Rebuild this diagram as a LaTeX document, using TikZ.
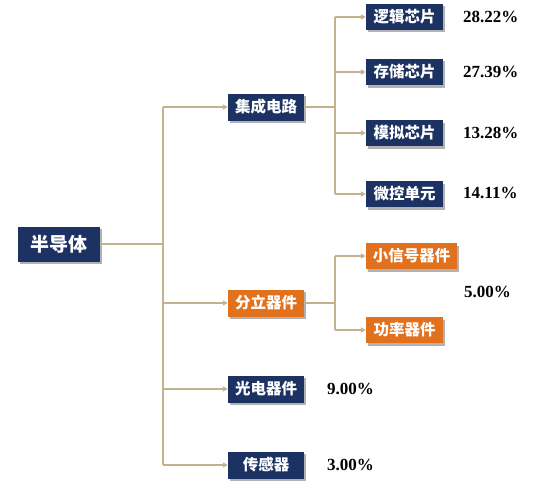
\documentclass[tikz,border=0pt]{standalone}
\usepackage{fontspec}
\setmainfont{Liberation Serif}
\newfontfamily\cjk{Noto Sans CJK SC}
\usetikzlibrary{arrows.meta,shadows}
\definecolor{navy}{HTML}{1B3263}
\definecolor{orng}{HTML}{E2711D}
\definecolor{tan}{HTML}{C2B28F}
\tikzset{
  box/.style={fill=#1, text=white, font=\cjk\bfseries\fontsize{15.5}{17}\selectfont,
    inner sep=0pt, minimum height=26pt, minimum width=77pt,
    drop shadow={shadow xshift=2pt, shadow yshift=-2.5pt, fill=black, opacity=0.3}},
  pct/.style={font=\bfseries\fontsize{17}{19}\selectfont, anchor=west, inner sep=0pt},
  link/.style={draw=tan, line width=1.7pt},
  arr/.style={link, -{Triangle[length=5pt,width=5pt]}}
}
\begin{document}
\begin{tikzpicture}[x=1pt,y=-1pt]
\useasboundingbox[fill=white] (0,0) rectangle (554,487);
% root
\node[box=navy, minimum width=82pt, minimum height=35pt, font=\cjk\bfseries\fontsize{19}{21}\selectfont] (root) at (59,244) {半导体};
% second level
\node[box=navy, minimum width=76pt, minimum height=27pt] (jc) at (266,107) {集成电路};
\node[box=orng, minimum width=76pt, minimum height=27pt] (fl) at (266,303) {分立器件};
\node[box=navy, minimum width=76pt, minimum height=27pt] (gd) at (266,389) {光电器件};
\node[box=navy, minimum width=76pt, minimum height=27pt] (cg) at (266,465) {传感器};
% leaves
\node[box=navy] (lj) at (404.5,17) {逻辑芯片};
\node[box=navy] (cc) at (404.5,72) {存储芯片};
\node[box=navy] (mn) at (404.5,133) {模拟芯片};
\node[box=navy] (wk) at (404.5,194) {微控单元};
\node[box=orng, minimum width=91pt] (xx) at (411.5,256) {小信号器件};
\node[box=orng] (gl) at (404.5,330) {功率器件};
% percentages
\node[pct] (p1) at (463,17) {28.22\%};
\node[pct] (p2) at (463,72) {27.39\%};
\node[pct] (p3) at (463,133) {13.28\%};
\node[pct] (p4) at (463,193) {14.11\%};
\node[pct] (p5) at (464,292) {5.00\%};
\node[pct] (p6) at (327,389) {9.00\%};
\node[pct] (p7) at (327,465) {3.00\%};
% connector junctions
\coordinate (ta) at (163,107);
\coordinate (tb) at (163,465);
\coordinate (tr) at (163,244);
\coordinate (ja) at (335,17);
\coordinate (jb) at (335,194);
\coordinate (jm) at (335,107);
\coordinate (fa) at (335,256);
\coordinate (fb) at (335,330);
\coordinate (fm) at (335,303);
% trunk
\draw[link] (root.east) -- (tr);
\draw[link] (ta) -- (tb);
\draw[arr] (ta) -- (jc.west);
\draw[arr] (fl.west -| ta) -- (fl.west);
\draw[arr] (gd.west -| ta) -- (gd.west);
\draw[arr] (tb) -- (cg.west);
% IC branch
\draw[link] (jc.east) -- (jm);
\draw[link] (ja) -- (jb);
\draw[arr] (ja) -- (lj.west);
\draw[arr] (cc.west -| ja) -- (cc.west);
\draw[arr] (mn.west -| ja) -- (mn.west);
\draw[arr] (jb) -- (wk.west);
% discrete branch
\draw[link] (fl.east) -- (fm);
\draw[link] (fa) -- (fb);
\draw[arr] (fa) -- (xx.west);
\draw[arr] (fb) -- (gl.west);
\end{tikzpicture}
\end{document}
